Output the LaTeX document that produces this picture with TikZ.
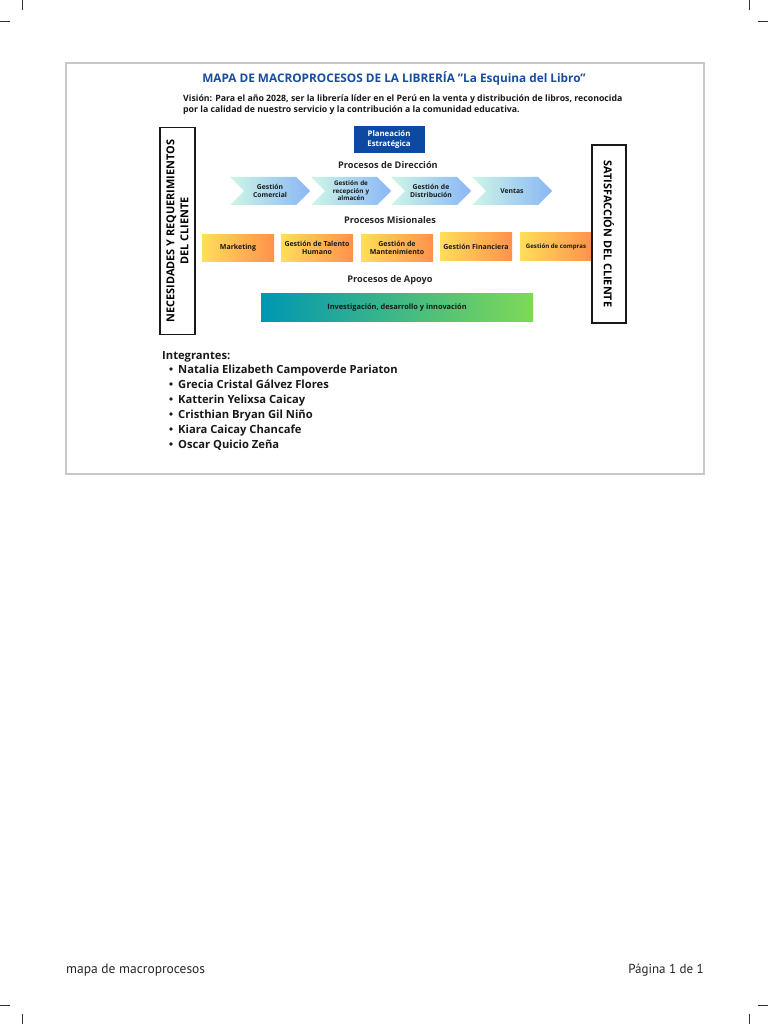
\documentclass[tikz,border=0pt]{standalone}
\usepackage{fontspec}
\setmainfont{Open Sans}
\newfontfamily\footfont{PT Sans}
\usetikzlibrary{shapes.symbols}
\definecolor{titleblue}{RGB}{24,78,160}
\definecolor{planblue}{RGB}{12,74,162}
\definecolor{mint}{RGB}{206,246,230}
\definecolor{skyb}{RGB}{138,182,246}
\definecolor{yel}{RGB}{255,222,89}
\definecolor{ora}{RGB}{255,145,77}
\definecolor{teal}{RGB}{0,151,178}
\definecolor{lgreen}{RGB}{126,217,87}
\definecolor{framegray}{RGB}{200,200,200}
\tikzset{
  chev/.style={shape=signal, signal from=west, signal to=east, signal pointer angle=90,
    minimum width=71pt, minimum height=28pt, inner sep=0pt, left color=mint, right color=skyb,
    font=\bfseries\fontsize{6.8}{7.8}\selectfont, align=center, text width=52pt, text=black!90},
  misbox/.style={minimum width=72pt, minimum height=27pt, inner sep=0pt, left color=yel, right color=ora,
    font=\bfseries\fontsize{7}{8.2}\selectfont, align=center, text=black!90},
  seclabel/.style={font=\bfseries\fontsize{9.2}{11}\selectfont, text=black!85},
  sidebox/.style={draw=black!90, line width=1.4pt, inner sep=0pt, fill=white},
  member/.style={anchor=base west, font=\bfseries\fontsize{11.2}{13}\selectfont, inner sep=0pt, text=black!90},
  cropmark/.style={line width=0.8pt, black!80}
}
\begin{document}
\begin{tikzpicture}[x=1pt,y=-1pt]
\useasboundingbox[fill=white] (0,0) rectangle (768,1024);
% crop marks
\draw[cropmark] (22,0) -- (22,10);
\draw[cropmark] (0,21) -- (10,21);
\draw[cropmark] (749,0) -- (749,10);
\draw[cropmark] (758,21) -- (768,21);
\draw[cropmark] (0,1005) -- (10,1005);
\draw[cropmark] (22,1014) -- (22,1024);
\draw[cropmark] (758,1005) -- (768,1005);
\draw[cropmark] (749,1014) -- (749,1024);
% frame
\node[draw=framegray, line width=1.3pt, minimum width=638pt, minimum height=411pt, inner sep=0pt] (frame) at (385,268.5) {};
% title
\node[font=\bfseries\fontsize{11.8}{14}\selectfont, text=titleblue, inner sep=0pt] (title) at (394,78.5) {MAPA DE MACROPROCESOS DE LA LIBRERÍA \char"22 La Esquina del Libro\char"22};
\node[font=\bfseries\fontsize{8.75}{11.5}\selectfont, anchor=west, align=left, inner sep=0pt, text=black!90] (vision) at (183,104.5)
 {Visión: Para el año 2028, ser la librería líder en el Perú en la venta y distribución de libros, reconocida\\por la calidad de nuestro servicio y la contribución a la comunidad educativa.};
% planeacion
\node[fill=planblue, text=white, minimum width=71pt, minimum height=27pt, inner sep=0pt,
  font=\bfseries\fontsize{7.8}{10}\selectfont, align=center] (plan) at (389,139.5) {Planeación\\Estratégica};
\node[seclabel] (dir) at (388,165) {Procesos de Dirección};
% chevrons
\node[chev] (c1) at (270,191) {Gestión\\Comercial};
\node[chev, font=\bfseries\fontsize{6.3}{7.4}\selectfont] (c2) at (351,191) {Gestión de\\recepción y\\almacén};
\node[chev] (c3) at (431,191) {Gestión de\\Distribución};
\node[chev] (c4) at (512,191) {Ventas};
\node[seclabel] (mis) at (390,220) {Procesos Misionales};
% misionales
\node[misbox] (m1) at (238,248) {Marketing};
\node[misbox] (m2) at (317,248) {Gestión de Talento\\Humano};
\node[misbox] (m3) at (397,248) {Gestión de\\Mantenimiento};
\node[misbox] (m4) at (476,246.5) {Gestión Financiera};
\node[misbox, font=\bfseries\fontsize{6.1}{7}\selectfont] (m5) at (556,246.5) {Gestión de compras};
\node[seclabel] (apo) at (390,280) {Procesos de Apoyo};
\node[minimum width=272pt, minimum height=28pt, inner sep=0pt, left color=teal, right color=lgreen,
  font=\bfseries\fontsize{7.4}{9}\selectfont, text=black!90] (ido) at (397,307.5) {Investigación, desarrollo y innovación};
% side boxes
\node[sidebox, minimum width=35pt, minimum height=207pt] (left) at (177.5,231) {};
\node[rotate=90, align=center, font=\bfseries\fontsize{10.9}{14}\selectfont, inner sep=0pt] (lefttxt) at (left.center)
  {NECESIDADES Y REQUERIMIENTOS\\DEL CLIENTE};
\node[sidebox, minimum width=34pt, minimum height=178pt] (right) at (609,234) {};
\node[rotate=-90, font=\bfseries\fontsize{10.9}{13}\selectfont, inner sep=0pt] (righttxt) at (right.center)
  {SATISFACCIÓN DEL CLIENTE};
% integrantes
\node[member] (integ) at (162,359) {Integrantes:};
\foreach \i/\name in {0/Natalia Elizabeth Campoverde Pariaton, 1/Grecia Cristal Gálvez Flores, 2/Katterin Yelixsa Caicay,
  3/Cristhian Bryan Gil Niño, 4/Kiara Caicay Chancafe, 5/Oscar Quicio Zeña}{
  \fill[black!90] (171,{369+15*\i}) circle (1.9pt);
  \node[member] (n\i) at (178,{373+15*\i}) {\name};
}
% footer
\node[anchor=west, font=\footfont\fontsize{13.5}{15}\selectfont, inner sep=0pt, text=black!85] (fl) at (66,970) {mapa de macroprocesos};
\node[anchor=east, font=\footfont\fontsize{13}{15}\selectfont, inner sep=0pt, text=black!85] (fr) at (704,970) {Página 1 de 1};
\end{tikzpicture}
\end{document}
